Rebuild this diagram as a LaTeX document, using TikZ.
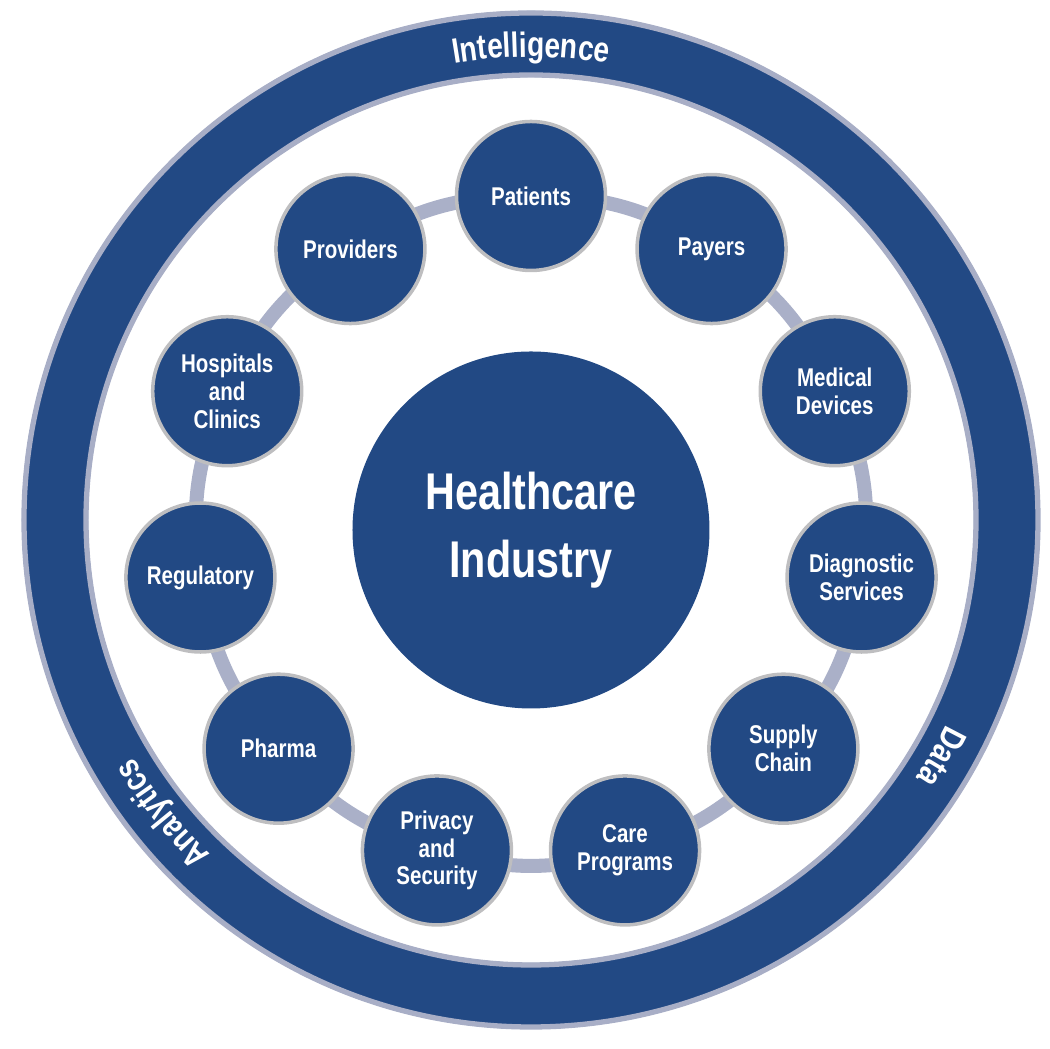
\documentclass[tikz,border=0pt]{standalone}
\usepackage{fontspec}
\setmainfont{Liberation Sans}[FakeStretch=0.8]
\usetikzlibrary{backgrounds,decorations.text}
\definecolor{hcblue}{RGB}{34,73,132}
\definecolor{hcrim}{RGB}{168,174,198}
\definecolor{hcgray}{RGB}{190,190,192}
\definecolor{hclink}{RGB}{170,176,200}
\newcommand{\tp}{\bfseries\fontsize{7.3}{7.9}\selectfont}
\newcommand{\rg}{\fontsize{10}{12}\selectfont\bfseries}

\begin{document}
\begin{tikzpicture}[
  topic/.style={circle,draw=hcgray,line width=1pt,fill=hcblue,minimum size=1.49cm,
    inner sep=0pt,text=white,align=center,font=\tp},
  link/.style={hclink,line width=4pt},
  ringtext/.style={font=\rg,decorate,decoration={text along path,text align=center,
    text color=white,text={|\rg|#1}}}]
   \useasboundingbox (-5.31,-5.19) rectangle (5.19,5.30);
   \coordinate (oc) at (0,0.10);
   \fill[hcblue,even odd rule] (oc) circle (5.09) (oc) circle (4.43);
   \draw[hcrim,line width=1.5pt] (oc) circle (5.07);
   \draw[hcrim,line width=1.5pt] (oc) circle (4.45);
   \path[ringtext=Intelligence] ([shift={(150:4.63)}]oc) arc[start angle=150,end angle=30,radius=4.63];
   \path[ringtext=Data] ([shift={(30:4.63)}]oc) arc[start angle=30,end angle=-90,radius=4.63];
   \path[ringtext=Analytics] ([shift={(278.5:4.63)}]oc) arc[start angle=278.5,end angle=158.5,radius=4.63];

   \node[circle,fill=hcblue,minimum size=3.57cm,inner sep=0pt,text=white,align=center,
     font=\bfseries\fontsize{14.7}{19.3}\selectfont] (ind) at (0,0) {Healthcare\\Industry};

   \node[topic] (pat) at (90:3.34) {Patients};
   \node[topic] (pay) at (57.27:3.34) {Payers};
   \node[topic] (med) at (24.55:3.34) {Medical\\Devices};
   \node[topic] (dia) at (-8.18:3.34) {Diagnostic\\Services};
   \node[topic] (sup) at (-40.91:3.34) {Supply\\Chain};
   \node[topic] (car) at (-73.64:3.34) {Care\\Programs};
   \node[topic] (pri) at (-106.36:3.34) {Privacy\\and\\Security};
   \node[topic] (pha) at (-139.09:3.34) {Pharma};
   \node[topic] (reg) at (-171.82:3.34) {Regulatory};
   \node[topic] (hos) at (155.45:3.34) {Hospitals\\and\\Clinics};
   \node[topic] (pro) at (122.73:3.34) {Providers};

   \begin{scope}[on background layer]
   \draw[link] (pat.center) to[bend left=16.36] (pay.center);
   \draw[link] (pay.center) to[bend left=16.36] (med.center);
   \draw[link] (med.center) to[bend left=16.36] (dia.center);
   \draw[link] (dia.center) to[bend left=16.36] (sup.center);
   \draw[link] (sup.center) to[bend left=16.36] (car.center);
   \draw[link] (car.center) to[bend left=16.36] (pri.center);
   \draw[link] (pri.center) to[bend left=16.36] (pha.center);
   \draw[link] (pha.center) to[bend left=16.36] (reg.center);
   \draw[link] (reg.center) to[bend left=16.36] (hos.center);
   \draw[link] (hos.center) to[bend left=16.36] (pro.center);
   \draw[link] (pro.center) to[bend left=16.36] (pat.center);
   \end{scope}
  \end{tikzpicture}
\end{document}
